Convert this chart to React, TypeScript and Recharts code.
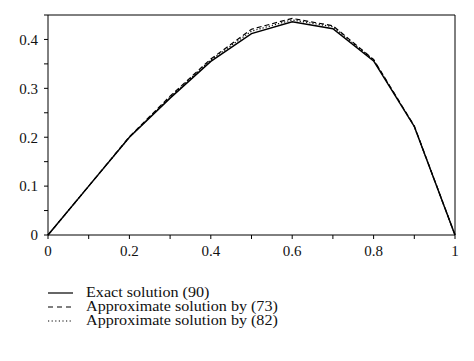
import { LineChart, Line, XAxis, YAxis, ReferenceLine } from "recharts";

const xs = [0, 0.1, 0.2, 0.3, 0.4, 0.5, 0.6, 0.7, 0.8, 0.9, 1];
const exact = [0, 0.1, 0.2, 0.28, 0.355, 0.412, 0.436, 0.422, 0.356, 0.222, 0];
const approx73 = [0, 0.1, 0.201, 0.284, 0.36, 0.421, 0.443, 0.428, 0.359, 0.223, 0];
const approx82 = [0, 0.1, 0.2, 0.282, 0.358, 0.417, 0.44, 0.426, 0.358, 0.222, 0];

const xTicks = [0, 0.1, 0.2, 0.3, 0.4, 0.5, 0.6, 0.7, 0.8, 0.9, 1];
const yTicks = [0, 0.05, 0.1, 0.15, 0.2, 0.25, 0.3, 0.35, 0.4, 0.45];

const legendItems = [
  { label: "Exact solution (90)", dash: undefined },
  { label: "Approximate solution by (73)", dash: "5 4" },
  { label: "Approximate solution by (82)", dash: "1.2 2.4" },
];

const data = xs.map((x, i) => ({
  x,
  exact: exact[i],
  a73: approx73[i],
  a82: approx82[i],
}));

const font = "'Liberation Serif', 'DejaVu Serif', serif";

function fmtX(v: number) {
  const k = Math.round(v * 10);
  if (k % 2 !== 0) return "";
  return k === 0 ? "0" : k === 10 ? "1" : String(k / 10);
}

function fmtY(v: number) {
  const k = Math.round(v * 100);
  if (k % 10 !== 0 || k > 40) return "";
  return k === 0 ? "0" : String(k / 100);
}

export default function App() {
  return (
    <div style={{ position: "relative", width: 474, height: 361, background: "#fff" }}>
      <style>{"body{margin:0}"}</style>
      <LineChart
        width={474}
        height={265}
        data={data}
        margin={{ top: 15, right: 19, left: 0, bottom: 0 }}
      >
        <XAxis
          dataKey="x"
          type="number"
          domain={[0, 1]}
          ticks={xTicks}
          tickFormatter={fmtX}
          interval={0}
          stroke="#000"
          tickSize={4}
          tickMargin={6}
          height={30}
          tick={{ fontSize: 15, fill: "#111", fontFamily: font }}
        />
        <YAxis
          type="number"
          domain={[0, 0.45]}
          ticks={yTicks}
          tickFormatter={fmtY}
          interval={0}
          stroke="#000"
          tickSize={4}
          tickMargin={6}
          width={48}
          tick={{ fontSize: 15, fill: "#111", fontFamily: font }}
        />
        <ReferenceLine y={0.45} stroke="#000" strokeWidth={1} />
        <ReferenceLine x={1} stroke="#000" strokeWidth={1} />
        <Line
          dataKey="a82"
          stroke="#000"
          strokeWidth={1.2}
          strokeDasharray="1.2 2"
          dot={false}
          isAnimationActive={false}
        />
        <Line
          dataKey="a73"
          stroke="#000"
          strokeWidth={1.2}
          strokeDasharray="5 3"
          dot={false}
          isAnimationActive={false}
        />
        <Line
          dataKey="exact"
          stroke="#000"
          strokeWidth={1.5}
          dot={false}
          isAnimationActive={false}
        />
      </LineChart>
      <div style={{ position: "absolute", left: 48, top: 286, fontFamily: font, fontSize: 14, color: "#111" }}>
        {legendItems.map((it) => (
          <div key={it.label} style={{ display: "flex", alignItems: "center", height: 14 }}>
            <svg width={26} height={14} style={{ display: "block" }}>
              <line x1={0} y1={7} x2={25} y2={7} stroke="#000" strokeWidth={1.2} strokeDasharray={it.dash} />
            </svg>
            <span
              style={{
                marginLeft: 12,
                whiteSpace: "nowrap",
                display: "inline-block",
                transform: "scaleX(1.15)",
                transformOrigin: "left center",
                lineHeight: "14px",
              }}
            >
              {it.label}
            </span>
          </div>
        ))}
      </div>
    </div>
  );
}
